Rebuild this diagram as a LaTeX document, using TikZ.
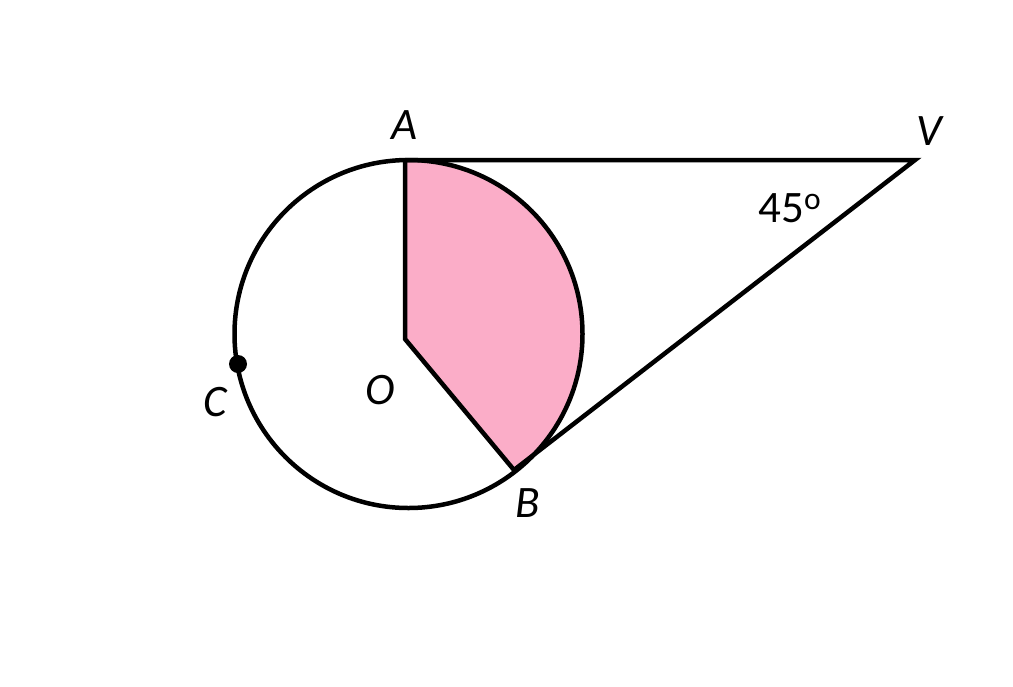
\documentclass[tikz,border=0pt]{standalone}
\usepackage{fontspec}
\setmainfont{Carlito}
\definecolor{pinkfill}{RGB}{251,173,200}
\begin{document}
\begin{tikzpicture}[x=0.025cm,y=-0.025cm,
  geo/.style={line width=3.2pt,line join=miter},
  lbl/.style={font=\fontsize{32}{32}\selectfont\itshape,inner sep=0pt},
  ang/.style={font=\fontsize{32}{32}\selectfont,inner sep=0pt}]
\useasboundingbox (0,0) rectangle (1013,686);
\coordinate (Ctr) at (408.5,334);
\coordinate (A) at (405,160);
\coordinate (O) at (405,339);
\coordinate (B) at (514,470);
\coordinate (V) at (915,160);
\coordinate (C) at (238,364);
% pink sector
\fill[pinkfill] (A) -- (O) -- (B) arc[start angle=52.2,end angle=-91.2,radius=172.5] -- cycle;
\draw[geo] (Ctr) circle[radius=174];
\draw[geo] (A) -- (O) -- (B);
\draw[geo] (A) -- (V) -- (B);
\fill (C) circle[radius=9];
\node[lbl] (lA) at (405,125) {A};
\node[lbl] (lV) at (929,131) {V};
\node[lbl] (lB) at (528,503) {B};
\node[lbl] (lC) at (215,402) {C};
\node[lbl] (lO) at (380,390) {O};
\node[ang] (l45) at (790,208) {45\textsuperscript{o}};
\end{tikzpicture}
\end{document}
